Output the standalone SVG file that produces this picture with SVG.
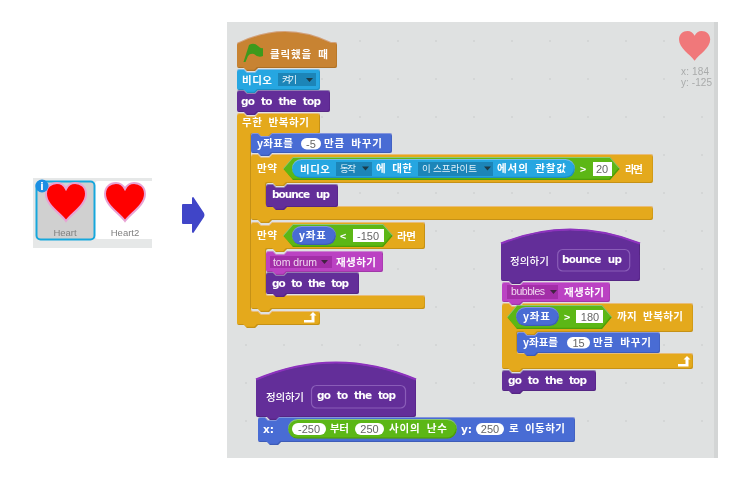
<svg xmlns="http://www.w3.org/2000/svg" width="740" height="486" viewBox="0 0 740 486">
<style>
text{font-family:"Noto Sans CJK KR","Liberation Sans",sans-serif}
.k{fill:#fff;font-size:10.500px;font-weight:700;word-spacing:3px}
.e{fill:#fff;font-size:10.500px;font-weight:700;word-spacing:4px;font-family:"DejaVu Sans",sans-serif}
.d{fill:#e4f2fa;font-size:9.500px}
.t{fill:#f0d8f0;font-size:10.500px;font-family:"Liberation Sans",sans-serif}
.v{fill:#666;font-size:11px;text-anchor:middle;font-family:"Liberation Sans",sans-serif}
.l{fill:#808080;font-size:9.500px;text-anchor:middle;font-family:"Liberation Sans",sans-serif}
.c{fill:#a9abab;font-size:10px;font-family:"Liberation Sans",sans-serif}
.b{filter:url(#bevel)}
.hat{fill:#c88330}.vid{fill:#25a6e1}.pur{fill:#632d99}.gold{fill:#e4a91e}.mot{fill:#4a6cd4}.grn{fill:#5cb712}.snd{fill:#bb42c3}
.wh{fill:#fff}
.arc{fill:none;stroke:#8c30bd;stroke-width:2}
.tri{fill:#222;opacity:.75}
</style>
<defs>
<filter id="soft" x="0" y="0" width="100%" height="100%"><feGaussianBlur stdDeviation="0.35"/></filter>
<filter id="bevel" x="-2%" y="-5%" width="104%" height="110%">
<feOffset in="SourceAlpha" dx="-0.6" dy="-1.2" result="o1"/>
<feComposite in="SourceAlpha" in2="o1" operator="out" result="m1"/>
<feFlood flood-color="#000" flood-opacity=".28"/><feComposite in2="m1" operator="in" result="dark"/>
<feOffset in="SourceAlpha" dy="1" result="o2"/>
<feComposite in="SourceAlpha" in2="o2" operator="out" result="m2"/>
<feFlood flood-color="#fff" flood-opacity=".18"/><feComposite in2="m2" operator="in" result="light"/>
<feMerge><feMergeNode in="SourceGraphic"/><feMergeNode in="dark"/><feMergeNode in="light"/></feMerge>
</filter>
<pattern id="dots" x="227" y="22" width="38" height="38" patternUnits="userSpaceOnUse"><rect x="18" y="18" width="2" height="2" fill="#d4d6d6"/></pattern>
<path id="heart" d="M20,38C14,30 0,22 0,11C0,4 5,0 11,0C15,0 18,2 20,6C22,2 25,0 29,0C35,0 40,4 40,11C40,22 26,30 20,38Z"/>
<path id="loop" d="M0,8h7.500v-4.500h-2l3.500,-3.500l3.500,3.500h-2v7h-10.500z" fill="#fff"/>
</defs>
<g filter="url(#soft)">
<rect id="bg" width="740" height="486" fill="#fff"/>
<g id="sprites">
<rect x="33" y="178" width="119" height="70" fill="#e6e8e8"/>
<path d="M98,181H152V239H98q-3,0 -3,-3V184q0,-3 3,-3Z" fill="#fff"/>
<rect x="36.500" y="181.500" width="58" height="58" rx="4" fill="#d0d0d0" stroke="#19a7dc" stroke-width="2"/>
<use href="#heart" x="46" y="183" fill="#f00" stroke="#e8a2d4" stroke-width="2"/>
<use href="#heart" x="105" y="183" fill="#f00" stroke="#e8a2d4" stroke-width="2"/>
<circle cx="42" cy="186" r="6.500" fill="#1a8fe3"/>
<text x="42" y="190" fill="#fff" font-size="10" font-weight="700" text-anchor="middle" style="font-family:'DejaVu Sans',sans-serif">i</text>
<text class="l" x="65" y="236">Heart</text>
<text class="l" x="125" y="236">Heart2</text>
</g>
<g id="arrow"><path d="M183,204H192V198Q193,196 194,198L204,213Q205,215 204,217L194,232Q193,234 192,232V224H183Q182,224 182,223V205Q182,204 183,204Z" fill="#3f45c8"/></g>
<g id="stage">
<rect x="227" y="22" width="491" height="436" fill="#dfe1e1"/>
<rect x="227" y="22" width="491" height="436" fill="url(#dots)"/>
<rect x="714" y="22" width="4" height="436" fill="#d3d5d5"/>
<g transform="translate(679,31) scale(.78)"><use href="#heart" fill="#f0787a"/></g>
<text class="c" x="681" y="74.500" textLength="28">x: 184</text>
<text class="c" x="681" y="85.500" textLength="31">y: -125</text>
</g>

<g id="forever">
<path class="b gold" d="M239,113h5l3,3h8l3,-3H318q2,0 2,2V132q0,2 -2,2H272l-3,3h-8l-3,-3H253q-2,0 -2,2V309q0,2 2,2h5l3,3h8l3,-3H318q2,0 2,2V323q0,2 -2,2H258l-3,3h-8l-3,-3H239q-2,0 -2,-2V115q0,-2 2,-2Z"/>
<text class="k" x="242" y="126" textLength="67">무한 반복하기</text>
<use href="#loop" x="304" y="312"/>
</g>
<g id="hat1">
<path class="b hat" d="M237,44Q237,42 239,42Q285,20 331,42H335q2,0 2,2V66q0,2 -2,2H258l-3,3h-8l-3,-3H239q-2,0 -2,-2Z"/>
<path d="M243.500,62L249,45Q254,42 258,46Q261,49 263,48L263,56Q258,58 254,54Q250,53 248,56L245.500,62Z" fill="#3d9a1d"/>
<text class="k" x="270" y="58" textLength="58">클릭했을 때</text>
</g>
<g id="video">
<path class="b vid" d="M239,69h5l3,3h8l3,-3H318q2,0 2,2V88q0,2 -2,2H258l-3,3h-8l-3,-3H239q-2,0 -2,-2V71q0,-2 2,-2Z"/>
<text class="k" x="242" y="84" textLength="30">비디오</text>
<rect x="278" y="73" width="38" height="13" fill="#1b85b8"/>
<text class="d" x="282" y="83" textLength="15">켜기</text>
<path class="tri" d="M306,78h7l-3.500,4z"/>
</g>
<g id="gotop1">
<path class="b pur" d="M239,90h5l3,3h8l3,-3H328q2,0 2,2V110q0,2 -2,2H258l-3,3h-8l-3,-3H239q-2,0 -2,-2V92q0,-2 2,-2Z"/>
<text class="e" x="241" y="105" textLength="80">go to the top</text>
</g>
<g id="change1">
<path class="b mot" d="M253,133h5l3,3h8l3,-3H390q2,0 2,2V151q0,2 -2,2H272l-3,3h-8l-3,-3H253q-2,0 -2,-2V135q0,-2 2,-2Z"/>
<text class="k" x="257" y="147" textLength="36">y좌표를</text>
<rect x="301" y="138" width="20" height="11.500" rx="5.700" class="wh"/>
<text class="v" x="311" y="147.500">-5</text>
<text class="k" x="324" y="147" textLength="58">만큼 바꾸기</text>
</g>
<g id="if1">
<path class="b gold" d="M253,154h5l3,3h8l3,-3H651q2,0 2,2V181q0,2 -2,2H287l-3,3h-8l-3,-3H268q-2,0 -2,2V204q0,2 2,2H651q2,0 2,2V218q0,2 -2,2H272l-3,3h-8l-3,-3H253q-2,0 -2,-2V156q0,-2 2,-2Z"/>
<text class="k" x="257" y="172" textLength="20">만약</text>
<path class="b grn" d="M283,168.500L293,157H610L620,168.500L610,180H293Z"/>
<rect class="b vid" x="292" y="159" width="283" height="19" rx="9.500"/>
<text class="k" x="300" y="173" textLength="30">비디오</text>
<rect x="336" y="162" width="36" height="14" fill="#1b85b8"/>
<text class="d" x="340" y="172" textLength="16">동작</text>
<path class="tri" d="M362,166.500h7l-3.500,4z"/>
<text class="k" x="376" y="172" textLength="36">에 대한</text>
<rect x="418" y="162" width="75" height="14" fill="#1b85b8"/>
<text class="d" x="422" y="172" textLength="55">이 스프라이트</text>
<path class="tri" d="M484,166.500h7l-3.500,4z"/>
<text class="k" x="497" y="172" textLength="69">에서의 관찰값</text>
<text class="k" x="580" y="173">&gt;</text>
<rect x="593" y="162" width="19" height="14" class="wh"/>
<text class="v" x="602" y="173">20</text>
<text class="k" x="625" y="173" textLength="18">라면</text>
</g>
<g id="bounce1">
<path class="b pur" d="M268,184h5l3,3h8l3,-3H336q2,0 2,2V205q0,2 -2,2H287l-3,3h-8l-3,-3H268q-2,0 -2,-2V186q0,-2 2,-2Z"/>
<text class="e" x="272" y="198" textLength="58">bounce up</text>
</g>
<g id="if2">
<path class="b gold" d="M253,222h5l3,3h8l3,-3H423q2,0 2,2V247q0,2 -2,2H287l-3,3h-8l-3,-3H268q-2,0 -2,2V293q0,2 2,2H423q2,0 2,2V307q0,2 -2,2H272l-3,3h-8l-3,-3H253q-2,0 -2,-2V224q0,-2 2,-2Z"/>
<text class="k" x="257" y="239" textLength="20">만약</text>
<path class="b grn" d="M283,235.500L293,224H383L393,235.500L383,247H293Z"/>
<rect class="b mot" x="292" y="226" width="44" height="19" rx="9.500"/>
<text class="k" x="299" y="239" textLength="27">y좌표</text>
<text class="k" x="340" y="240">&lt;</text>
<rect x="353" y="229" width="31" height="13" class="wh"/>
<text class="v" x="368" y="239.500">-150</text>
<text class="k" x="397" y="240" textLength="19">라면</text>
</g>
<g id="tomdrum">
<path class="b snd" d="M268,251h5l3,3h8l3,-3H381q2,0 2,2V270q0,2 -2,2H287l-3,3h-8l-3,-3H268q-2,0 -2,-2V253q0,-2 2,-2Z"/>
<rect x="270" y="256" width="62" height="12" fill="#a32fa8"/>
<text class="t" x="273" y="265.500" textLength="44">tom drum</text>
<path class="tri" d="M321,260h7l-3.500,4z"/>
<text class="k" x="336" y="266" textLength="40">재생하기</text>
</g>
<g id="gotop2">
<path class="b pur" d="M268,272h5l3,3h8l3,-3H357q2,0 2,2V292q0,2 -2,2H287l-3,3h-8l-3,-3H268q-2,0 -2,-2V274q0,-2 2,-2Z"/>
<text class="e" x="272" y="287" textLength="77">go to the top</text>
</g>

<g id="hat2">
<path class="b pur" d="M501,243Q570,215 640,243V279q0,2 -2,2H523l-3,3h-8l-3,-3H503q-2,0 -2,-2Z"/>
<path class="arc" d="M501,243.500Q570,215.500 640,243.500"/>
<rect x="557.700" y="249.500" width="72" height="21.500" rx="5" fill="none" stroke="#8a5db8" stroke-width="1.200"/>
<text class="k" x="510" y="265" textLength="39" style="font-weight:500">정의하기</text>
<text class="e" x="562" y="263" textLength="60">bounce up</text>
</g>
<g id="bubbles">
<path class="b snd" d="M504,282h5l3,3h8l3,-3H608q2,0 2,2V300q0,2 -2,2H523l-3,3h-8l-3,-3H504q-2,0 -2,-2V284q0,-2 2,-2Z"/>
<rect x="507" y="285" width="51" height="14" fill="#a32fa8"/>
<text class="t" x="511" y="294.500" textLength="34">bubbles</text>
<path class="tri" d="M550,290h7l-3.500,4z"/>
<text class="k" x="564" y="296" textLength="40">재생하기</text>
</g>
<g id="repeat">
<path class="b gold" d="M504,303h5l3,3h8l3,-3H691q2,0 2,2V330q0,2 -2,2H538l-3,3h-8l-3,-3H519q-2,0 -2,2V351q0,2 2,2H691q2,0 2,2V367q0,2 -2,2H523l-3,3h-8l-3,-3H504q-2,0 -2,-2V305q0,-2 2,-2Z"/>
<path class="b grn" d="M507,317L517,305H602L612,317L602,329H517Z"/>
<rect class="b mot" x="516" y="307" width="43" height="19" rx="9.500"/>
<text class="k" x="523" y="320" textLength="27">y좌표</text>
<text class="k" x="564" y="321">&gt;</text>
<rect x="576" y="310" width="27" height="13" class="wh"/>
<text class="v" x="590" y="320.500">180</text>
<text class="k" x="617" y="320" textLength="66">까지 반복하기</text>
<use href="#loop" x="678" y="356"/>
</g>
<g id="change2">
<path class="b mot" d="M519,332h5l3,3h8l3,-3H658q2,0 2,2V351q0,2 -2,2H538l-3,3h-8l-3,-3H519q-2,0 -2,-2V334q0,-2 2,-2Z"/>
<text class="k" x="523" y="346" textLength="35">y좌표를</text>
<rect x="567" y="337" width="23" height="11.500" rx="5.700" class="wh"/>
<text class="v" x="578.500" y="346.500">15</text>
<text class="k" x="593" y="346" textLength="58">만큼 바꾸기</text>
</g>
<g id="gotop3">
<path class="b pur" d="M504,370h5l3,3h8l3,-3H594q2,0 2,2V389q0,2 -2,2H523l-3,3h-8l-3,-3H504q-2,0 -2,-2V372q0,-2 2,-2Z"/>
<text class="e" x="508" y="384" textLength="79">go to the top</text>
</g>

<g id="hat3">
<path class="b pur" d="M256,379Q336,345 416,379V415q0,2 -2,2H281l-3,3h-8l-3,-3H258q-2,0 -2,-2Z"/>
<path class="arc" d="M256,379.500Q336,345.500 416,379.500"/>
<rect x="311.500" y="385.500" width="94" height="22.500" rx="5" fill="none" stroke="#8a5db8" stroke-width="1.200"/>
<text class="k" x="266" y="401" textLength="38" style="font-weight:500">정의하기</text>
<text class="e" x="317" y="399" textLength="79">go to the top</text>
</g>
<g id="goto">
<path class="b mot" d="M260,417h5l3,3h8l3,-3H573q2,0 2,2V440q0,2 -2,2H281l-3,3h-8l-3,-3H260q-2,0 -2,-2V419q0,-2 2,-2Z"/>
<text class="e" x="263" y="433">x:</text>
<rect class="b grn" x="288" y="419" width="169" height="19.500" rx="9.700"/>
<rect x="292" y="423" width="34" height="12" rx="6" class="wh"/>
<text class="v" x="309" y="433">-250</text>
<text class="k" x="330" y="432" textLength="19">부터</text>
<rect x="355" y="423" width="29" height="12" rx="6" class="wh"/>
<text class="v" x="369.500" y="433">250</text>
<text class="k" x="389" y="432" textLength="58">사이의 난수</text>
<text class="e" x="461" y="433">y:</text>
<rect x="476" y="423" width="28" height="12" rx="6" class="wh"/>
<text class="v" x="490" y="433">250</text>
<text class="k" x="509" y="432" textLength="56">로 이동하기</text>
</g>
</g>
</svg>
